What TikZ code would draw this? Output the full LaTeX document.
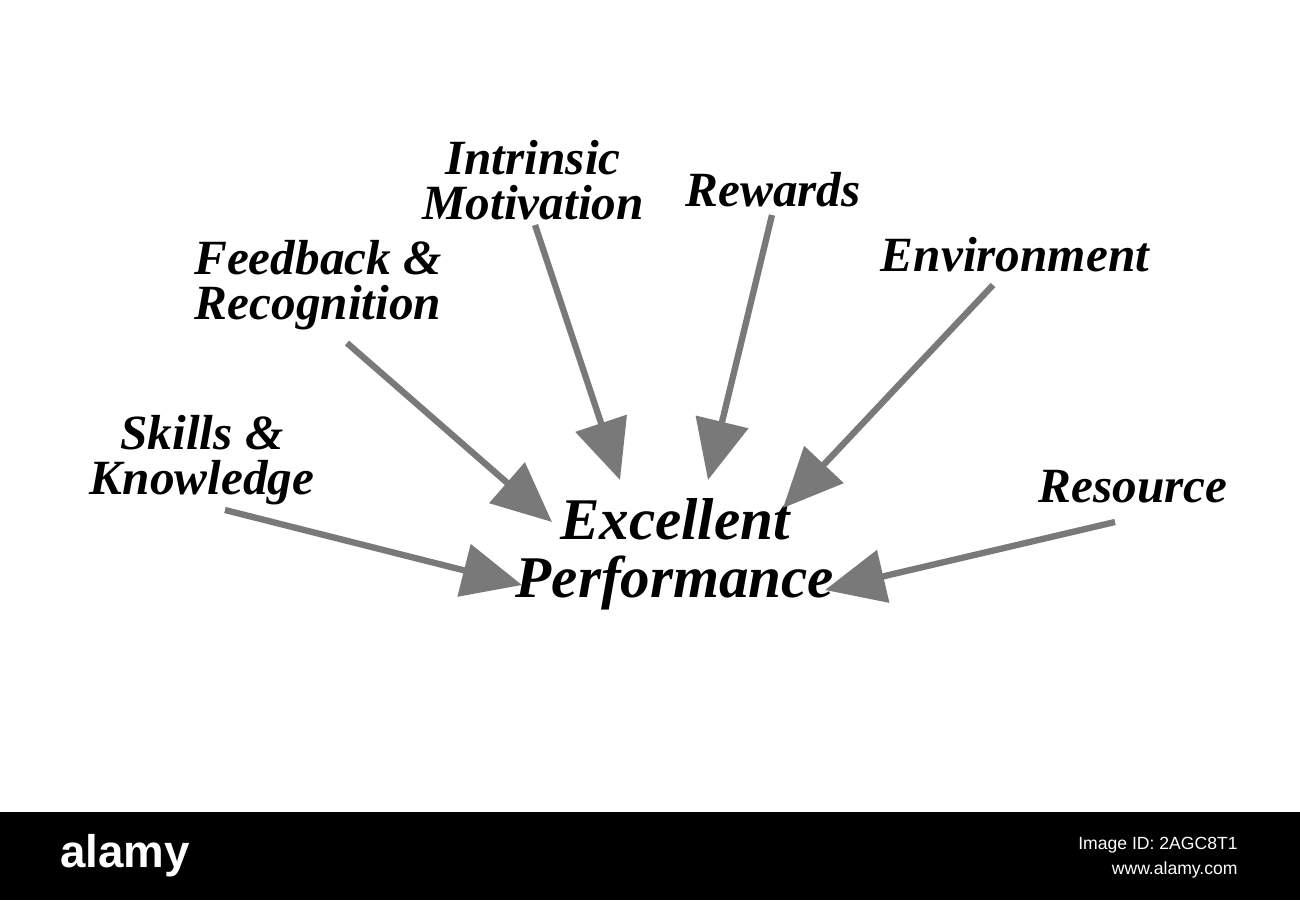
\documentclass[tikz,border=0pt]{standalone}
\usepackage{fontspec}
\setmainfont{Liberation Serif}
\newfontfamily\sansf{Liberation Sans}
\usetikzlibrary{arrows.meta}
\begin{document}
\begin{tikzpicture}[x=0.01cm,y=-0.01cm,
  lbl/.style={font=\fontsize{14}{12.8}\selectfont\bfseries\itshape,align=center,inner sep=0pt},
  big/.style={font=\fontsize{16.8}{16.5}\selectfont\bfseries\itshape,align=center,inner sep=0pt},
  arr/.style={draw=gray!95!black,line width=1.8pt,-{Triangle[length=17pt,width=15pt]}}]
\useasboundingbox (0,0) rectangle (1300,900);
\fill[white] (0,0) rectangle (1300,812);
\fill[black] (0,812) rectangle (1300,900);
\node[big] (ep) at (675,554) {Excellent\\Performance};
\node[lbl] (sk) at (202,460) {Skills \&\\Knowledge};
\node[lbl] (fb) at (318,285) {Feedback \&\\Recognition};
\node[lbl] (im) at (533,180) {Intrinsic\\Motivation};
\node[lbl] (rw) at (773,190) {Rewards};
\node[lbl] (en) at (1015,255) {Environment};
\node[lbl] (rs) at (1133,487) {Resource};
\coordinate (sk1) at (225,510); \coordinate (sk2) at (522,585);
\coordinate (fb1) at (347,343); \coordinate (fb2) at (552,522);
\coordinate (im1) at (535,225); \coordinate (im2) at (620,480);
\coordinate (rw1) at (772,215); \coordinate (rw2) at (708,480);
\coordinate (en1) at (993,285); \coordinate (en2) at (783,508);
\coordinate (rs1) at (1115,522); \coordinate (rs2) at (825,590);
\draw[arr] (sk1) -- (sk2);
\draw[arr] (fb1) -- (fb2);
\draw[arr] (im1) -- (im2);
\draw[arr] (rw1) -- (rw2);
\draw[arr] (en1) -- (en2);
\draw[arr] (rs1) -- (rs2);
\node[white,font=\sansf\bfseries\fontsize{13}{13}\selectfont,anchor=west] (al) at (48,856) {alamy};
\node[white,font=\sansf\fontsize{5}{6}\selectfont,anchor=east] (id) at (1250,845) {Image ID: 2AGC8T1};
\node[white,font=\sansf\fontsize{5}{6}\selectfont,anchor=east] (ww) at (1250,870) {www.alamy.com};
\end{tikzpicture}
\end{document}
